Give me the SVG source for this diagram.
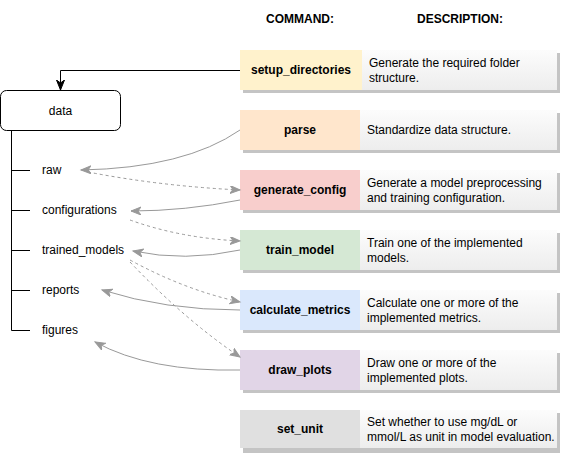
<svg xmlns="http://www.w3.org/2000/svg" width="563" height="453" viewBox="0 0 563 453">
<style>
text{font-family:"Liberation Sans",Arial,Helvetica,sans-serif;font-size:12px;fill:#000}
.b{font-weight:bold}
.c{text-anchor:middle}
.sh{fill:#c4c4c4}
.desc{fill:url(#g)}
.e{fill:none;stroke:#999;stroke-width:1}
.d{stroke-dasharray:3 3}
</style>
<defs>
<linearGradient id="g" x1="0" y1="0" x2="0" y2="1">
<stop offset="0" stop-color="#fcfcfc"/>
<stop offset="1" stop-color="#ededed"/>
</linearGradient>
<marker id="ag" markerUnits="userSpaceOnUse" markerWidth="12" markerHeight="10" refX="10" refY="4" orient="auto">
<path d="M0,0 L10,4 L0,8 L3,4 Z" fill="#999" stroke="#999" stroke-width="1"/>
</marker>
<marker id="ak" markerUnits="userSpaceOnUse" markerWidth="12" markerHeight="10" refX="10" refY="4" orient="auto">
<path d="M0,0 L10,4 L0,8 L3,4 Z" fill="#000" stroke="#000" stroke-width="1"/>
</marker>
</defs>

<text class="b c" x="300" y="23">COMMAND:</text>
<text class="b c" x="460" y="23">DESCRIPTION:</text>

<g id="data">
<rect x="0.5" y="90.5" width="120" height="40" rx="6" fill="#fff" stroke="#000"/>
<text class="c" x="60.5" y="114.5">data</text>
</g>

<g id="tree" stroke="#000" stroke-width="1">
<path d="M11.5 130.5 V330.5 M11.5 170.5 H30 M11.5 210.5 H30 M11.5 250.5 H30 M11.5 290.5 H30 M11.5 330.5 H30"/>
</g>
<g id="raw"><text x="42" y="174">raw</text></g>
<g id="configurations"><text x="42" y="214">configurations</text></g>
<g id="trained_models"><text x="42" y="254">trained_models</text></g>
<g id="reports"><text x="42" y="294">reports</text></g>
<g id="figures"><text x="42" y="334">figures</text></g>

<g id="setup_directories">
<rect class="sh" x="243" y="53" width="317" height="40"/>
<rect x="240" y="50" width="122" height="40" fill="#fff2cc"/>
<rect class="desc" x="362" y="50" width="195" height="40"/>
<text class="b c" x="301" y="74">setup_directories</text>
<text x="369" y="67">Generate the required folder</text>
<text x="369" y="82">structure.</text>
</g>

<g id="parse">
<rect class="sh" x="243" y="113" width="317" height="40"/>
<rect x="240" y="110" width="120" height="40" fill="#ffe6cc"/>
<rect class="desc" x="360" y="110" width="197" height="40"/>
<text class="b c" x="300" y="134">parse</text>
<text x="367" y="134">Standardize data structure.</text>
</g>

<g id="generate_config">
<rect class="sh" x="243" y="173" width="317" height="40"/>
<rect x="240" y="170" width="120" height="40" fill="#f8cecc"/>
<rect class="desc" x="360" y="170" width="197" height="40"/>
<text class="b c" x="300" y="194">generate_config</text>
<text x="367" y="187">Generate a model preprocessing</text>
<text x="367" y="202">and training configuration.</text>
</g>

<g id="train_model">
<rect class="sh" x="243" y="233" width="317" height="40"/>
<rect x="240" y="230" width="120" height="40" fill="#d5e8d4"/>
<rect class="desc" x="360" y="230" width="197" height="40"/>
<text class="b c" x="300" y="254">train_model</text>
<text x="367" y="247">Train one of the implemented</text>
<text x="367" y="262">models.</text>
</g>

<g id="calculate_metrics">
<rect class="sh" x="243" y="293" width="317" height="40"/>
<rect x="240" y="290" width="120" height="40" fill="#dae8fc"/>
<rect class="desc" x="360" y="290" width="197" height="40"/>
<text class="b c" x="300" y="314">calculate_metrics</text>
<text x="367" y="307">Calculate one or more of the</text>
<text x="367" y="322">implemented metrics.</text>
</g>

<g id="draw_plots">
<rect class="sh" x="243" y="353" width="317" height="40"/>
<rect x="240" y="350" width="120" height="40" fill="#e1d5e7"/>
<rect class="desc" x="360" y="350" width="197" height="40"/>
<text class="b c" x="300" y="374">draw_plots</text>
<text x="367" y="367">Draw one or more of the</text>
<text x="367" y="382">implemented plots.</text>
</g>

<g id="set_unit">
<rect class="sh" x="243" y="413" width="317" height="40"/>
<rect x="240" y="410" width="120" height="38" fill="#e0e0e0"/>
<rect class="desc" x="360" y="410" width="197" height="38"/>
<text class="b c" x="300" y="433">set_unit</text>
<text x="367" y="426">Set whether to use mg/dL or</text>
<text x="367" y="441">mmol/L as unit in model evaluation.</text>
</g>

<g id="connectors">
<path d="M240 70.5 H60.5 V90" fill="none" stroke="#000" marker-end="url(#ak)"/>
<path class="e" d="M240 130 Q 185 168 81 170" marker-end="url(#ag)"/>
<path class="e d" d="M88 172 Q 160 186 240 190" marker-end="url(#ag)"/>
<path class="e" d="M240 200 Q 185 211 131 211" marker-end="url(#ag)"/>
<path class="e d" d="M130 220 Q 180 238 240 241" marker-end="url(#ag)"/>
<path class="e" d="M240 250 Q 185 262 133 251" marker-end="url(#ag)"/>
<path class="e d" d="M130 260 Q 185 290 240 302" marker-end="url(#ag)"/>
<path class="e d" d="M130 262 Q 185 320 240 357" marker-end="url(#ag)"/>
<path class="e" d="M240 310 Q 165 310 102 290" marker-end="url(#ag)"/>
<path class="e" d="M240 370 Q 150 372 95 342" marker-end="url(#ag)"/>
</g>
</svg>
